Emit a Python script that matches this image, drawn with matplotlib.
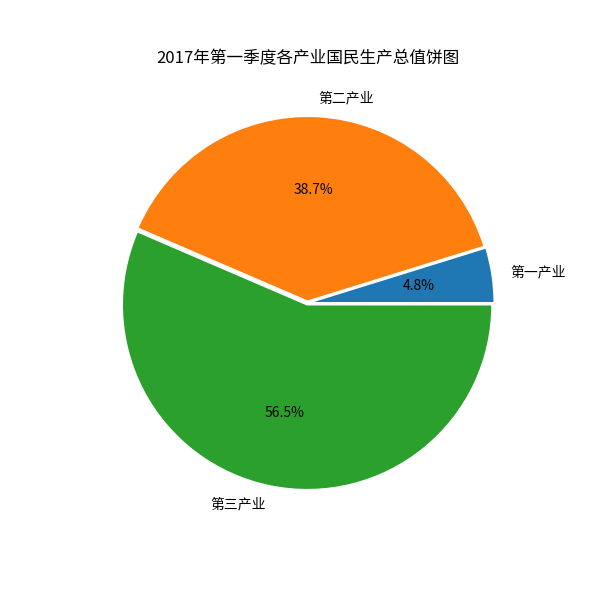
import matplotlib
matplotlib.use('Agg')
import matplotlib.pyplot as plt

plt.rcParams['font.family'] = ['Noto Sans CJK SC', 'DejaVu Sans']

labels = ['第一产业', '第二产业', '第三产业']
values = [8654.0, 70005.0, 102024.0]

fig = plt.figure(figsize=(6, 6), dpi=100)
ax = fig.add_subplot(111)
ax.pie(values, labels=labels, autopct='%1.1f%%', explode=[0.01, 0.01, 0.01],
       wedgeprops={'edgecolor': 'white', 'linewidth': 1.0})
ax.set_title('2017年第一季度各产业国民生产总值饼图', fontsize=12)
fig.savefig('out.png', dpi=100)
